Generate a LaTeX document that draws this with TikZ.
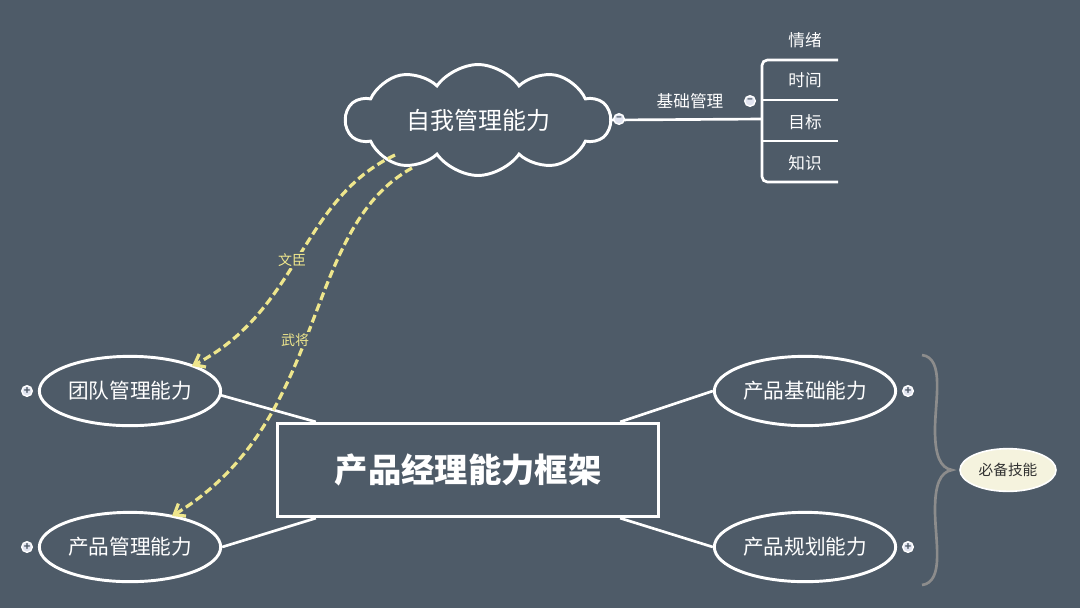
\documentclass[tikz,border=0pt]{standalone}
\usepackage{fontspec}
\setmainfont{Noto Sans CJK SC}
\usetikzlibrary{shapes.geometric,shapes.symbols,arrows.meta}
\definecolor{bgslate}{RGB}{78,91,104}
\definecolor{linkyellow}{RGB}{238,230,140}
\definecolor{bracegray}{RGB}{140,140,140}
\definecolor{tagfill}{RGB}{245,243,222}
\definecolor{togglefill}{RGB}{225,228,240}
\tikzset{
	every picture/.style={line width=0.75pt},
	topic/.style={ellipse,draw=white,line width=2.2pt,inner sep=0pt,minimum width=136pt,minimum height=52pt,text=white,font=\fontsize{15.5}{15.5}\selectfont},
	toggle/.style={circle,draw=white,line width=1pt,fill=togglefill,inner sep=0pt,minimum size=8pt,font=\fontsize{8}{8}\selectfont\bfseries,text=bgslate},
	branch/.style={white,line width=2pt},
	leaf/.style={text=white,font=\fontsize{12.5}{12.5}\selectfont},
	relation/.style={linkyellow,line width=2.4pt,dash pattern=on 6pt off 3pt,-{Straight Barb[length=7pt,width=11pt]}},
	rellabel/.style={text=linkyellow,fill=bgslate,inner sep=1pt,font=\fontsize{10.5}{10.5}\selectfont}}
\begin{document}
\begin{tikzpicture}[x=0.75pt,y=0.75pt,yscale=-1,xscale=1]
	\fill[bgslate] (0,0) rectangle (1080,608);
	\useasboundingbox (0,0) rectangle (1080,608);

	% central topic
	\node[draw=white,line width=2.2pt,minimum width=286pt,minimum height=70pt,text=white,font=\fontsize{25}{25}\selectfont\bfseries] (core) at (468,470) {产品经理能力框架};
	% main topics
	\node[topic] (team) at (130,391) {团队管理能力};
	\node[topic] (pm) at (130,547) {产品管理能力};
	\node[topic] (base) at (805,391) {产品基础能力};
	\node[topic] (plan) at (805,547) {产品规划能力};
	\node[cloud,cloud puffs=10,cloud puff arc=110,aspect=2.7,draw=white,line width=2.2pt,minimum width=198pt,minimum height=74pt,text=white,font=\fontsize{18}{18}\selectfont] (self) at (478,120) {自我管理能力};

	\draw[branch] (team) ++(90,4) -- ([xshift=30pt]core.north west);
	\draw[branch] (pm.east) -- ([xshift=30pt]core.south west);
	\draw[branch] (base.west) -- ([xshift=-30pt]core.north east);
	\draw[branch] (plan.west) -- ([xshift=-30pt]core.south east);

	% toggles
	\node[toggle] (tg1) at (27,391) {+};
	\node[toggle] (tg2) at (27,547) {+};
	\node[toggle] (tg3) at (908,391) {+};
	\node[toggle] (tg4) at (908,547) {+};

	% sub branch
	\coordinate (fork) at (762,119);
	\draw[branch] (self.east) -- (fork);
	\node[toggle] (tg5) at (619,119) {--};
	\node[leaf] (basic) at (690,101) {基础管理};
	\node[toggle] (tg6) at (750,101) {--};
	\draw[branch,rounded corners=4pt] (838,60) -- (762,60) -- (762,182) -- (838,182);
	\draw[branch] (762,100) -- (838,100);
	\draw[branch] (762,141) -- (838,141);
	\node[leaf] (mood) at (805,40) {情绪};
	\node[leaf] (time) at (805,80) {时间};
	\node[leaf] (goal) at (805,122) {目标};
	\node[leaf] (know) at (805,163) {知识};

	% relations
	\draw[relation] (395,155) .. controls (300,200) and (300,310) .. (192,366);
	\node[rellabel] (rel1) at (292,260) {文臣};
	\draw[relation] (412,168) .. controls (300,230) and (330,420) .. (172,516);
	\node[rellabel] (rel2) at (295,340) {武将};

	% summary brace
	\draw[bracegray,line width=2pt] (922,355) .. controls (945,358) and (935,400) .. (935,430) .. controls (935,455) and (940,468) .. (952,470) .. controls (940,472) and (935,485) .. (935,510) .. controls (935,540) and (945,582) .. (922,585);
	\node[ellipse,draw=white,line width=1.2pt,fill=tagfill,minimum width=72pt,minimum height=32pt,font=\fontsize{11}{11}\selectfont,text=black!80] (skill) at (1008,470) {必备技能};
\end{tikzpicture}
\end{document}
